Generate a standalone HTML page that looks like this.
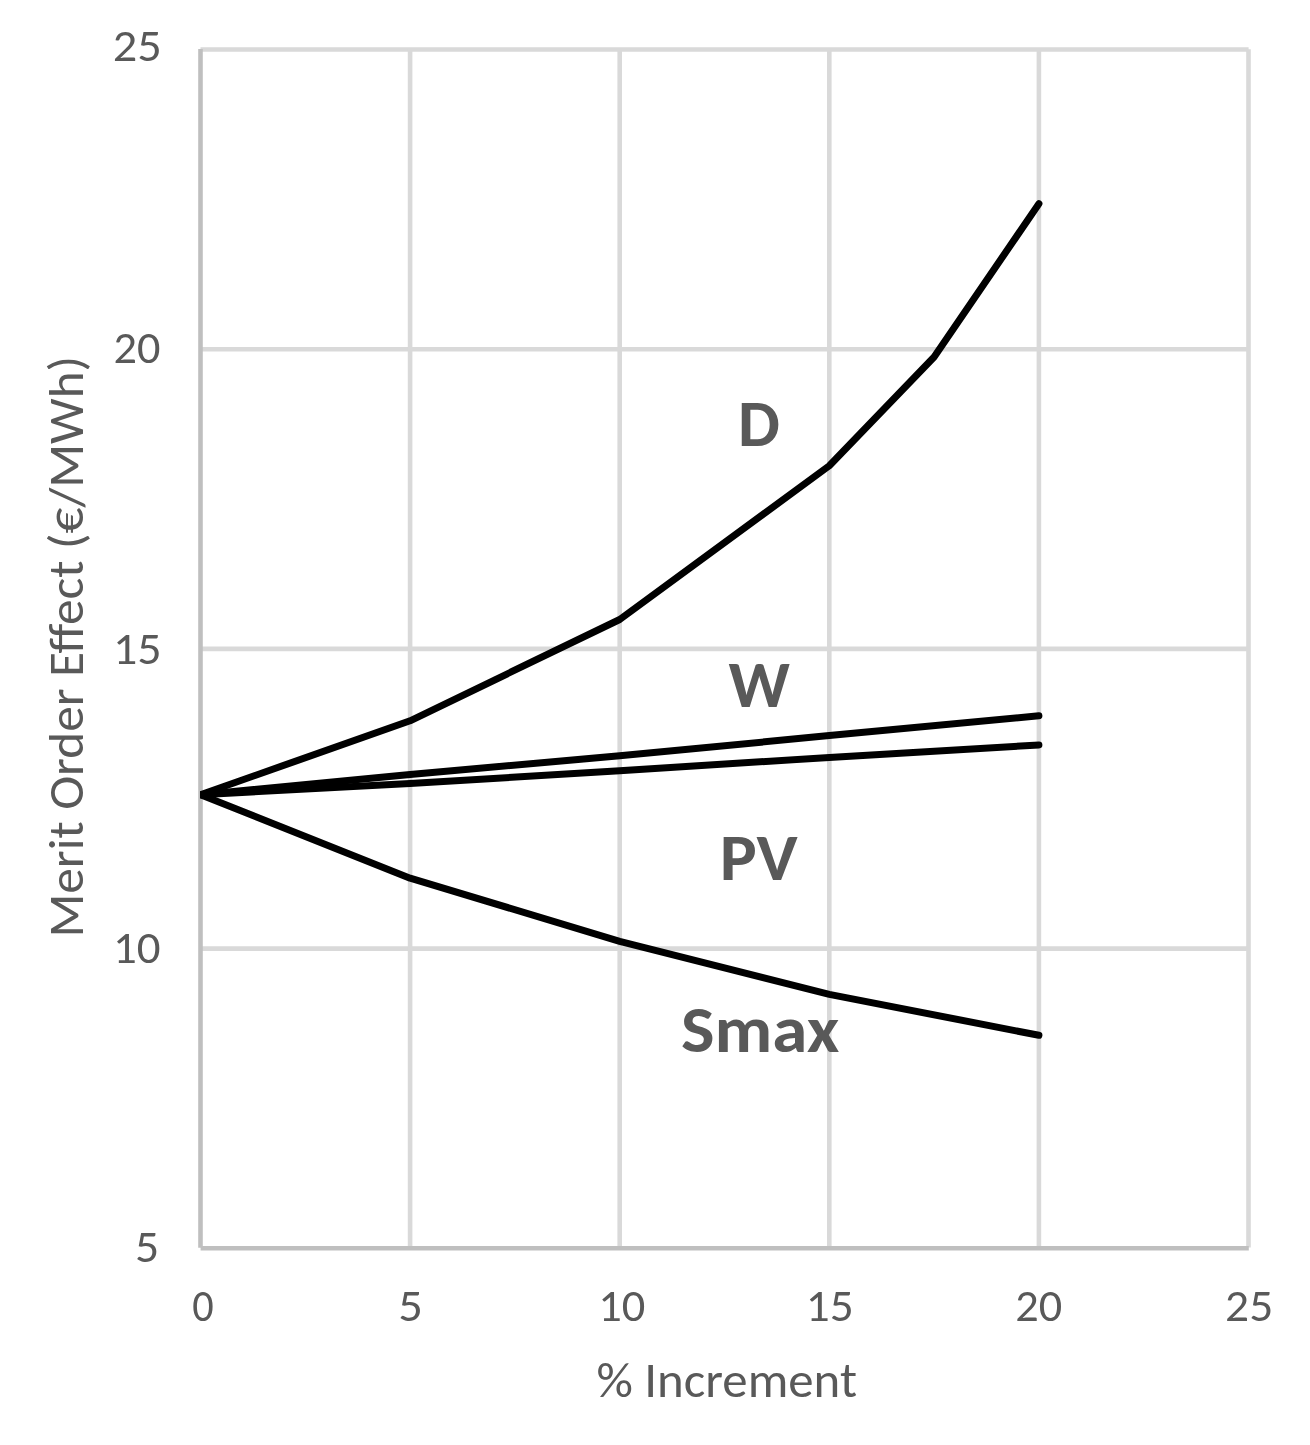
<!DOCTYPE html>
<html><head><meta charset="utf-8"><title>Merit Order Effect chart</title>
<style>
html,body{margin:0;padding:0;background:#fff;}
body{width:1310px;height:1445px;overflow:hidden;}
svg{display:block;}
text{font-family:"Carlito","Liberation Sans",sans-serif;fill:#595959;}
</style></head>
<body>
<svg width="1310" height="1445" viewBox="0 0 1310 1445">
<rect width="1310" height="1445" fill="#fff"/>
<line x1="200.5" y1="948.6" x2="1248.6" y2="948.6" stroke="#d9d9d9" stroke-width="4.6"/>
<line x1="200.5" y1="648.9" x2="1248.6" y2="648.9" stroke="#d9d9d9" stroke-width="4.6"/>
<line x1="200.5" y1="349.2" x2="1248.6" y2="349.2" stroke="#d9d9d9" stroke-width="4.6"/>
<line x1="200.5" y1="49.5" x2="1248.6" y2="49.5" stroke="#d9d9d9" stroke-width="4.6"/>
<line x1="410.1" y1="49.2" x2="410.1" y2="1247.6" stroke="#d9d9d9" stroke-width="4.6"/>
<line x1="619.7" y1="49.2" x2="619.7" y2="1247.6" stroke="#d9d9d9" stroke-width="4.6"/>
<line x1="829.3" y1="49.2" x2="829.3" y2="1247.6" stroke="#d9d9d9" stroke-width="4.6"/>
<line x1="1038.9" y1="49.2" x2="1038.9" y2="1247.6" stroke="#d9d9d9" stroke-width="4.6"/>
<line x1="1248.5" y1="49.2" x2="1248.5" y2="1247.6" stroke="#d9d9d9" stroke-width="4.6"/>
<line x1="200.5" y1="49.1" x2="200.5" y2="1247.7" stroke="#bfbfbf" stroke-width="4.6"/>
<line x1="200.6" y1="1248.3" x2="1248.8" y2="1248.3" stroke="#bfbfbf" stroke-width="4.6"/>
<clipPath id="pa"><rect x="200.3" y="40" width="1060" height="1215"/></clipPath><g clip-path="url(#pa)">
<path d="M200.5 794.7 L410.1 720.8 L619.7 619.5 L829.3 465.8 L934.1 357.0 L1038.9 203.7" fill="none" stroke="#000" stroke-width="7.0" stroke-linejoin="round" stroke-linecap="round"/>
<path d="M200.5 794.7 L410.1 774.5 L619.7 755.8 L829.3 735.6 L1038.9 715.8" fill="none" stroke="#000" stroke-width="7.0" stroke-linejoin="round" stroke-linecap="round"/>
<path d="M200.5 794.7 L410.1 783.5 L619.7 770.7 L829.3 757.4 L1038.9 744.9" fill="none" stroke="#000" stroke-width="7.0" stroke-linejoin="round" stroke-linecap="round"/>
<path d="M200.5 794.7 L410.1 878.2 L619.7 941.3 L829.3 994.4 L1038.9 1035.3" fill="none" stroke="#000" stroke-width="7.0" stroke-linejoin="round" stroke-linecap="round"/>
</g>
<text x="137.30" y="61.15" text-anchor="middle" font-size="45.30" textLength="48.91" lengthAdjust="spacingAndGlyphs">25</text>
<text x="136.90" y="363.25" text-anchor="middle" font-size="45.30" textLength="46.89" lengthAdjust="spacingAndGlyphs">20</text>
<text x="137.35" y="663.55" text-anchor="middle" font-size="45.30" textLength="48.60" lengthAdjust="spacingAndGlyphs">15</text>
<text x="136.75" y="962.65" text-anchor="middle" font-size="45.30" textLength="47.60" lengthAdjust="spacingAndGlyphs">10</text>
<text x="147.20" y="1262.45" text-anchor="middle" font-size="45.30" textLength="24.13" lengthAdjust="spacingAndGlyphs">5</text>
<text x="202.85" y="1321.05" text-anchor="middle" font-size="45.30" textLength="21.45" lengthAdjust="spacingAndGlyphs">0</text>
<text x="410.55" y="1321.05" text-anchor="middle" font-size="45.30" textLength="24.58" lengthAdjust="spacingAndGlyphs">5</text>
<text x="621.80" y="1321.05" text-anchor="middle" font-size="45.30" textLength="47.11" lengthAdjust="spacingAndGlyphs">10</text>
<text x="829.70" y="1321.05" text-anchor="middle" font-size="45.30" textLength="47.84" lengthAdjust="spacingAndGlyphs">15</text>
<text x="1038.70" y="1321.05" text-anchor="middle" font-size="45.30" textLength="46.93" lengthAdjust="spacingAndGlyphs">20</text>
<text x="1249.15" y="1321.05" text-anchor="middle" font-size="45.30" textLength="48.04" lengthAdjust="spacingAndGlyphs">25</text>
<text x="726.65" y="1396.75" text-anchor="middle" font-size="48.50" textLength="260.55" lengthAdjust="spacingAndGlyphs">% Increment</text>
<text transform="translate(83.25 646.70) rotate(-90)" text-anchor="middle" font-size="49.00" textLength="581.58" lengthAdjust="spacingAndGlyphs">Merit Order Effect (€/MWh)</text>
<text x="759.00" y="445.90" text-anchor="middle" font-size="67.00" font-weight="bold" textLength="41.88" lengthAdjust="spacingAndGlyphs">D</text>
<text x="759.20" y="706.55" text-anchor="middle" font-size="67.00" font-weight="bold" textLength="61.43" lengthAdjust="spacingAndGlyphs">W</text>
<text x="758.70" y="879.50" text-anchor="middle" font-size="67.00" font-weight="bold" textLength="77.84" lengthAdjust="spacingAndGlyphs">PV</text>
<text x="760.15" y="1052.40" text-anchor="middle" font-size="67.00" font-weight="bold" textLength="158.34" lengthAdjust="spacingAndGlyphs">Smax</text>
</svg>
</body></html>
